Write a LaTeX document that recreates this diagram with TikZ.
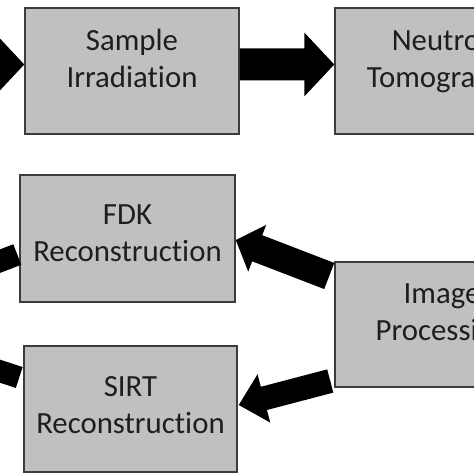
\documentclass[tikz,border=0pt]{standalone}
\usepackage{fontspec}
\setmainfont{Carlito}[Ligatures={NoCommon}]
\usetikzlibrary{calc}
\definecolor{boxfill}{HTML}{C0C0C0}
\definecolor{boxline}{HTML}{3C3C3C}
\definecolor{txtcol}{HTML}{1E1E1E}
\tikzset{
  procbox/.style={draw=boxline, fill=boxfill, line width=1.5pt, inner sep=0pt},
  lbl/.style={anchor=base, align=center, inner sep=0pt, text=txtcol,
    font=\fontsize{30.8}{37}\selectfont},
  arrfill/.style={fill=black}
}
% #1 tail, #2 tip, #3 shaft half width, #4 head half width, #5 head length
\newcommand{\blockarr}[5]{%
  \coordinate (ba-b) at ($(#2)!#5!(#1)$);
  \fill[arrfill] ($(#1)!#3!90:(#2)$) -- ($(ba-b)!#3!90:(#2)$) -- ($(ba-b)!#4!90:(#2)$)
    -- (#2) -- ($(ba-b)!#4!-90:(#2)$) -- ($(ba-b)!#3!-90:(#2)$) -- ($(#1)!#3!-90:(#2)$) -- cycle;
}
\begin{document}
\begin{tikzpicture}[x=1pt,y=1pt]
\useasboundingbox (0,0) rectangle (474,474);
\clip (0,0) rectangle (474,474);
\fill[white] (0,0) rectangle (474,474);

\node[procbox, minimum width=214pt, minimum height=126pt] (irr) at (132,403) {};
\node[procbox, minimum width=214pt, minimum height=126pt] (tomo) at (442,403) {};
\node[procbox, minimum width=215pt, minimum height=127pt] (fdk) at (127.5,235.5) {};
\node[procbox, minimum width=213pt, minimum height=126pt] (sirt) at (130.5,65) {};
\node[procbox, minimum width=214pt, minimum height=125pt] (imgp) at (442,149.5) {};

\node[lbl] (irr-t) at (132,386) {Sample\\Irradiation};
\node[lbl] (tomo-t) at (444,386) {Neutron\\Tomography};
\node[lbl] (fdk-t) at (127.5,212) {FDK\\Reconstruction};
\node[lbl] (sirt-t) at (130.5,40) {SIRT\\Reconstruction};
\node[lbl] (imgp-t) at (442,133) {Image\\Processing};

% top row
\coordinate (in1) at (-80,409.5);
\coordinate (irr-in) at ($(irr.west)+(0,6.5)$);
\blockarr{in1}{irr-in}{16pt}{32pt}{30pt}
\coordinate (irr-out) at ($(irr.east)+(0,6.5)$);
\coordinate (tomo-in) at ($(tomo.west)+(0,6.5)$);
\blockarr{irr-out}{tomo-in}{16pt}{32pt}{30pt}

% image processing to reconstructions
\coordinate (imgp-o1) at ($(imgp.west)+(-5,48.5)$);
\coordinate (fdk-in) at ($(fdk.east)+(0,-1.5)$);
\blockarr{imgp-o1}{fdk-in}{14pt}{25pt}{23pt}
\coordinate (imgp-o2) at ($(imgp.west)+(-4,-56.5)$);
\coordinate (sirt-in) at ($(sirt.east)+(1,4)$);
\blockarr{imgp-o2}{sirt-in}{12pt}{25pt}{26pt}

% outputs to the left
\coordinate (fdk-out) at ($(fdk.west)+(-2,-16)$);
\coordinate (fdk-end) at (-80,182);
\blockarr{fdk-out}{fdk-end}{11pt}{22pt}{24pt}
\coordinate (sirt-out) at ($(sirt.west)+(-4,31.5)$);
\coordinate (sirt-end) at (-80,129);
\blockarr{sirt-out}{sirt-end}{11pt}{22pt}{24pt}
\end{tikzpicture}
\end{document}
